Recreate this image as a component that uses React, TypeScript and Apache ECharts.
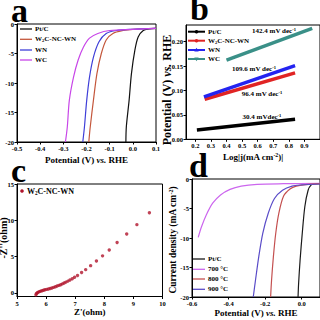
import React, { useEffect, useRef } from "react";
import * as echarts from "echarts";

const FONT = "'Liberation Serif', 'Times New Roman', serif";

// ---------- Panel a (LSV) ----------
const aPtC = [[-0.03, -20], [-0.028, -17.4], [-0.016, -12.9], [-0.006, -8.4], [0.009, -4.4], [0.023, -2.2], [0.045, -1.1], [0.07, -0.85], [0.1, -0.75]];
const aW2C = [[-0.19, -20], [-0.184, -17.5], [-0.17, -12.9], [-0.155, -8.4], [-0.136, -5], [-0.115, -2.7], [-0.086, -1.6], [-0.042, -1.1], [0, -0.9], [0.1, -0.75]];
const aWN = [[-0.216, -20], [-0.209, -17.5], [-0.199, -12.9], [-0.187, -9], [-0.17, -5.6], [-0.146, -3], [-0.115, -1.6], [-0.071, -1.1], [0, -0.9], [0.1, -0.75]];
const aWC = [[-0.291, -20], [-0.283, -17.5], [-0.274, -12.9], [-0.256, -9], [-0.236, -6.1], [-0.213, -3.9], [-0.187, -2.4], [-0.151, -1.6], [-0.1, -1.1], [0, -0.9], [0.1, -0.75]];
const aNames = ["Pt/C", "W{sub|2}C-NC-WN", "WN", "WC"];
const aColors = ["#111111", "#c4573c", "#3f3fd8", "#c846e8"];

// ---------- Panel b (Tafel) ----------
const bPtC = [[0.21, 0.019], [0.84, 0.041]];
const bW2C = [[0.26, 0.082], [0.84, 0.136]];
const bWN = [[0.255, 0.087], [0.84, 0.151]];
const bWC = [[0.40, 0.162], [0.95, 0.227]];
const bNames = ["Pt/C", "W{sub|2}C-NC-WN", "WN", "WC"];
const bColors = ["#000000", "#e02424", "#2424f0", "#3a9088"];
const bSlopes = ["142.4 mV dec{sup|-1}", "109.6 mV dec{sup|-1}", "96.4 mV dec{sup|-1}", "30.4 mVdec{sup|-1}"];
const bXTicks = [0.2, 0.3, 0.4, 0.5, 0.6, 0.7, 0.8, 0.9];

// ---------- Panel c (Nyquist) ----------
const cW2C = [
  [5.65, -0.25], [5.67, -0.1], [5.7, 0.02], [5.73, 0.1], [5.77, 0.17], [5.81, 0.24], [5.86, 0.3],
  [5.91, 0.36], [5.96, 0.42], [6.02, 0.48], [6.08, 0.54], [6.14, 0.61], [6.2, 0.68], [6.26, 0.76],
  [6.32, 0.85], [6.38, 0.94], [6.44, 1.03], [6.5, 1.13], [6.56, 1.24], [6.62, 1.36], [6.68, 1.48],
  [6.75, 1.62], [6.82, 1.77], [6.9, 1.95], [6.98, 2.14], [7.08, 2.4], [7.22, 2.8], [7.36, 3.2],
  [7.53, 3.75], [7.73, 4.4], [7.94, 5.1], [8.17, 5.9], [8.44, 6.95], [8.77, 8.1], [9.12, 9.4], [9.55, 11.05]
];
const cYTicks = [0, 5, 10, 15];

// ---------- Panel d (LSV temps) ----------
const dPtC = [[-0.02, -20], [-0.017, -17.7], [-0.009, -13.8], [0.003, -9.2], [0.017, -4.7], [0.035, -1.9], [0.052, -1.0], [0.07, -0.85], [0.1, -0.8]];
const d700 = [[-0.566, -9.9], [-0.548, -8.1], [-0.522, -6.1], [-0.487, -4.1], [-0.444, -2.7], [-0.392, -1.75], [-0.331, -1.2], [-0.244, -0.9], [-0.1, -0.8], [0.1, -0.75]];
const d800 = [[-0.17, -20], [-0.165, -17.2], [-0.155, -13.2], [-0.142, -9.2], [-0.125, -5.8], [-0.099, -2.9], [-0.064, -1.7], [-0.03, -1.2], [0.02, -0.95], [0.1, -0.8]];
const d900 = [[-0.265, -20], [-0.253, -17.2], [-0.235, -13.2], [-0.213, -9.2], [-0.183, -5.8], [-0.149, -3.3], [-0.105, -1.9], [-0.053, -1.2], [0, -1.0], [0.1, -0.85]];
const dNames = ["Pt/C", "700 °C", "800 °C", "900 °C"];
const dColors = ["#1a1a1a", "#cc66ee", "#c45050", "#5a4cc8"];

const fmt = (d: number) => (v: number) => (Math.abs(v) < 1e-9 ? 0 : v).toFixed(d);

function axisBase(gridIndex: number) {
  return {
    type: "value",
    gridIndex,
    axisLine: { show: true, onZero: false, lineStyle: { color: "#000", width: 1 } },
    axisTick: { show: true, inside: false, length: 2.5, lineStyle: { color: "#000", width: 1 } },
    splitLine: { show: false },
    axisLabel: { color: "#000", fontFamily: FONT, fontWeight: "bold", fontSize: 6.5, margin: 3 },
  };
}

function txt(x: number, y: number, text: string, size: number, extra: any = {}) {
  return {
    type: "text",
    x,
    y,
    ...extra,
    style: {
      text,
      fill: "#000",
      fontFamily: FONT,
      fontWeight: "bold",
      fontSize: size,
      align: extra.align || "left",
      verticalAlign: "middle",
      rich: {
        sub: { fontSize: size * 0.65, fontFamily: FONT, fontWeight: "bold", padding: [size * 0.45, 0, 0, 0] },
        sup: { fontSize: size * 0.65, fontFamily: FONT, fontWeight: "bold", padding: [0, 0, size * 0.45, 0] },
        i: { fontSize: size, fontStyle: "italic", fontFamily: FONT, fontWeight: "bold" },
      },
    },
  };
}

function lineLegend(x1: number, x2: number, ys: number[], names: string[], colors: string[], size: number, marks?: string[]) {
  const els: any[] = [];
  ys.forEach((y, i) => {
    els.push({ type: "line", shape: { x1, y1: y, x2, y2: y }, style: { stroke: colors[i], lineWidth: marks ? 2 : 1.3 } });
    if (marks) {
      const cx = (x1 + x2) / 2;
      if (marks[i] === "circle") els.push({ type: "circle", shape: { cx, cy: y, r: 1.8 }, style: { fill: colors[i] } });
      else if (marks[i] === "up") els.push({ type: "polygon", shape: { points: [[cx, y - 2.2], [cx - 2.2, y + 1.6], [cx + 2.2, y + 1.6]] }, style: { fill: colors[i] } });
      else els.push({ type: "polygon", shape: { points: [[cx, y + 2.2], [cx - 2.2, y - 1.6], [cx + 2.2, y - 1.6]] }, style: { fill: colors[i] } });
    }
    els.push(txt(x2 + 3, y, names[i], size));
  });
  return els;
}

function lineSeries(name: string, data: number[][], color: string, idx: number, width: number, smooth: number | boolean) {
  return {
    type: "line",
    name,
    xAxisIndex: idx,
    yAxisIndex: idx,
    data,
    smooth,
    symbol: "none",
    lineStyle: { color, width },
    itemStyle: { color },
    clip: true,
  };
}

const gridStyle = { show: true, borderColor: "#000", borderWidth: 1, backgroundColor: "transparent", containLabel: false };

export default function App() {
  const ref = useRef<HTMLDivElement>(null);
  useEffect(() => {
    document.body.style.margin = "0";
    const chart = echarts.init(ref.current!, null, { renderer: "svg" });
    const nameStyle = (size: number) => ({ color: "#000", fontFamily: FONT, fontWeight: "bold", fontSize: size, rich: {
      sup: { fontSize: size * 0.65, fontFamily: FONT, fontWeight: "bold", padding: [0, 0, size * 0.45, 0] },
      i: { fontSize: size, fontStyle: "italic", fontFamily: FONT, fontWeight: "bold" },
    } });
    const option: any = {
      animation: false,
      backgroundColor: "#fff",
      textStyle: { fontFamily: FONT },
      grid: [
        { ...gridStyle, left: 17, top: 24, width: 139, height: 118 },
        { ...gridStyle, left: 186, top: 25, width: 141, height: 114.3 },
        { ...gridStyle, left: 17, top: 184, width: 145.5, height: 112.5 },
        { ...gridStyle, left: 192, top: 179, width: 134, height: 118 },
      ],
      xAxis: [
        { ...axisBase(0), min: -0.5, max: 0.1, interval: 0.1, axisLabel: { ...axisBase(0).axisLabel, formatter: fmt(1) },
          name: "Potential (V) {i|vs.} RHE", nameLocation: "middle", nameGap: 13, nameTextStyle: nameStyle(9) },
        { ...axisBase(1), min: 0.14, max: 1.0,
          axisLabel: { ...axisBase(1).axisLabel, formatter: fmt(1), customValues: bXTicks },
          axisTick: { ...axisBase(1).axisTick, customValues: bXTicks },
          name: "Log|j(mA cm{sup|-2})|", nameLocation: "middle", nameGap: 13, nameTextStyle: nameStyle(9) },
        { ...axisBase(2), min: 5, max: 10, interval: 1,
          name: "Z'(ohm)", nameLocation: "middle", nameGap: 11, nameTextStyle: nameStyle(9) },
        { ...axisBase(3), min: -0.6, max: 0.1, interval: 0.2, axisLabel: { ...axisBase(3).axisLabel, formatter: fmt(1), showMaxLabel: false },
          name: "Potential (V) {i|vs.} RHE", nameLocation: "middle", nameGap: 11, nameTextStyle: nameStyle(9) },
      ],
      yAxis: [
        { ...axisBase(0), min: -20, max: 0, interval: 5 },
        { ...axisBase(1), min: 0, max: 0.234, interval: 0.05, axisLabel: { ...axisBase(1).axisLabel, formatter: fmt(2), showMaxLabel: false } },
        { ...axisBase(2), min: -0.5, max: 15,
          axisLabel: { ...axisBase(2).axisLabel, customValues: cYTicks },
          axisTick: { ...axisBase(2).axisTick, customValues: cYTicks } },
        { ...axisBase(3), min: -20, max: 0, interval: 5 },
      ],
      series: [
        lineSeries("a-Pt/C", aPtC, aColors[0], 0, 1.2, 0.3),
        lineSeries("a-W2C", aW2C, aColors[1], 0, 1.2, 0.3),
        lineSeries("a-WN", aWN, aColors[2], 0, 1.2, 0.3),
        lineSeries("a-WC", aWC, aColors[3], 0, 1.2, 0.3),
        lineSeries("b-Pt/C", bPtC, bColors[0], 1, 3.5, false),
        lineSeries("b-W2C", bW2C, bColors[1], 1, 3.5, false),
        lineSeries("b-WN", bWN, bColors[2], 1, 3.5, false),
        lineSeries("b-WC", bWC, bColors[3], 1, 3.5, false),
        {
          type: "scatter", name: "c-W2C", xAxisIndex: 2, yAxisIndex: 2, data: cW2C,
          symbol: "circle", symbolSize: 3.4, itemStyle: { color: "#b0142c" }, clip: false,
        },
        lineSeries("d-Pt/C", dPtC, dColors[0], 3, 1.2, 0.3),
        lineSeries("d-700", d700, dColors[1], 3, 1.2, 0.3),
        lineSeries("d-800", d800, dColors[2], 3, 1.2, 0.3),
        lineSeries("d-900", d900, dColors[3], 3, 1.2, 0.3),
      ],
      graphic: [
        // panel letters
        txt(11, 10, "a", 34),
        txt(190, 8, "b", 34),
        txt(11, 170, "c", 34),
        txt(189, 165, "d", 34),
        // legends
        ...lineLegend(20, 32, [29, 39.3, 50, 60], aNames, aColors, 7),
        ...lineLegend(188, 205, [31.7, 40.7, 50, 59], bNames, bColors, 7, ["circle", "circle", "up", "down"]),
        { type: "circle", shape: { cx: 22, cy: 191, r: 1.8 }, style: { fill: "#b0142c" } },
        txt(27, 191, "W{sub|2}C-NC-WN", 8),
        ...lineLegend(193, 205, [259, 269.3, 279, 289.3], dNames, dColors, 7),
        // slope annotations
        txt(274, 31, bSlopes[0], 7, { align: "center" }),
        txt(254, 69, bSlopes[1], 7, { align: "center" }),
        txt(262, 94, bSlopes[2], 7, { align: "center" }),
        txt(262, 117, bSlopes[3], 7, { align: "center" }),
        // rotated y titles
        txt(167, 90, "Potential (V) {i|vs.} RHE", 12, { align: "center", rotation: Math.PI / 2 }),
        txt(3, 238, "-Z''(ohm)", 10, { align: "center", rotation: Math.PI / 2 }),
        txt(173, 240, "Current density (mA cm{sup|-2})", 9.5, { align: "center", rotation: Math.PI / 2 }),
      ],
    };
    chart.setOption(option);
    return () => chart.dispose();
  }, []);
  return <div ref={ref} style={{ width: 320, height: 320 }} />;
}
